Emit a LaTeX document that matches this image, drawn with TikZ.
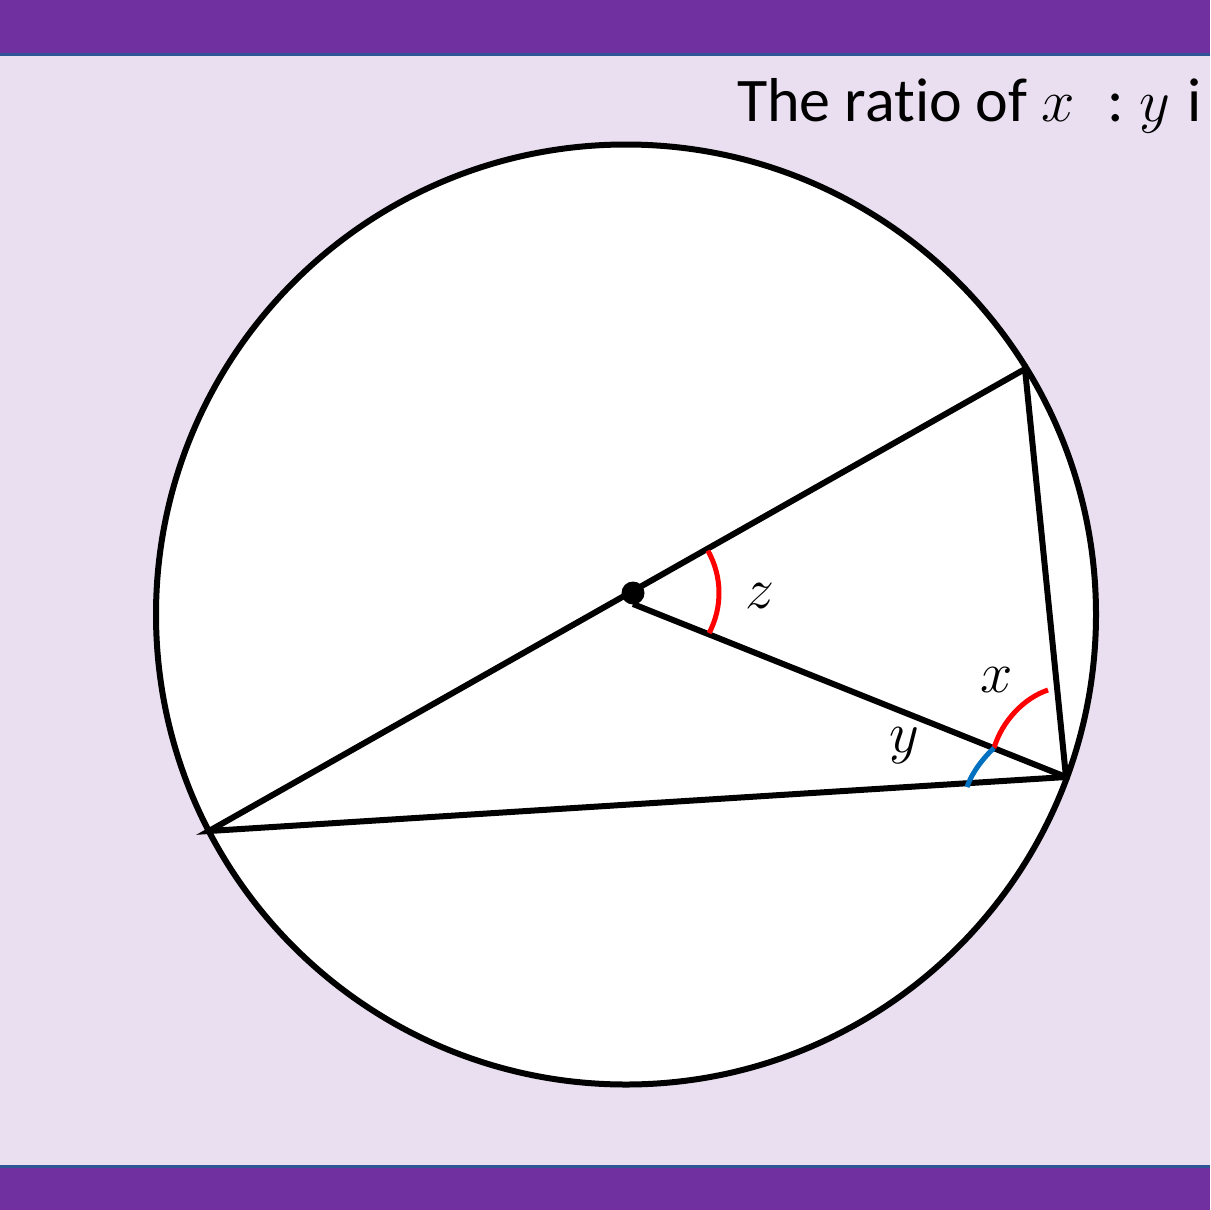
\documentclass[tikz,border=0pt]{standalone}
\usepackage{fix-cm}
\usepackage{fontspec}
\setmainfont{Carlito}[Ligatures=NoCommon]
\definecolor{bandpurple}{HTML}{7030A0}
\definecolor{bandblue}{HTML}{2F5597}
\definecolor{lavender}{HTML}{E9DFF0}
\definecolor{arcred}{HTML}{FF0000}
\definecolor{arcblue}{HTML}{0070C0}
\tikzset{
  edge/.style={line width=6pt, line join=miter},
  redarc/.style={arcred, line width=5pt},
  bluearc/.style={arcblue, line width=5pt},
  lbl/.style={inner sep=0pt, font=\fontsize{58}{64}\selectfont},
}
\begin{document}
\begin{tikzpicture}[x=1pt,y=-1pt]
\useasboundingbox (0,0) rectangle (1210,1210);
\clip (0,0) rectangle (1210,1210);
% background
\fill[lavender] (0,0) rectangle (1210,1210);
\fill[bandpurple] (0,0) rectangle (1210,54);
\fill[bandblue] (0,53) rectangle (1210,56);
\fill[bandpurple] (0,1166) rectangle (1210,1210);
\fill[bandblue] (0,1165) rectangle (1210,1168);
% title
\node[anchor=base west, inner sep=0pt, font=\fontsize{62}{70}\selectfont] (title) at (737,121)
  {The ratio of {\fontsize{60}{64}\selectfont$x$}\hspace{32pt}:\hspace{16pt}{\fontsize{60}{64}\selectfont$y$}\hspace{3pt} i};
% circle
\node[circle, draw, fill=white, line width=6pt, minimum size=940pt, inner sep=0pt] (circ) at (626,614.5) {};
% points
\coordinate (A) at (209,831);
\coordinate (B) at (1025,369);
\coordinate (C) at (1066,777);
\coordinate (O2) at (633,604);
\draw[edge] (A) -- (B) -- (C) -- cycle;
\draw[edge] (O2) -- (C);
\node[circle, fill=black, inner sep=0pt, minimum size=23pt] (O) at (633,593) {};
% angle z
\draw[redarc] (O.center) ++(27.8:86) arc[start angle=27.8, end angle=-29.5, radius=86];
% angle x
\coordinate (xs) at (994,748);
\coordinate (xe) at (1048,690);
\draw[redarc] (xs) .. controls (1002,721) and (1024,698) .. (xe);
% angle y
\coordinate (ye) at (967,787);
\draw[bluearc] (xs) .. controls (981,760) and (971,775) .. (ye);
% labels
\node[lbl] (lz) at (760,596) {$z$};
\node[lbl] (lx) at (997,680) {$x$};
\node[lbl] (ly) at (904,746) {$y$};
\end{tikzpicture}
\end{document}
